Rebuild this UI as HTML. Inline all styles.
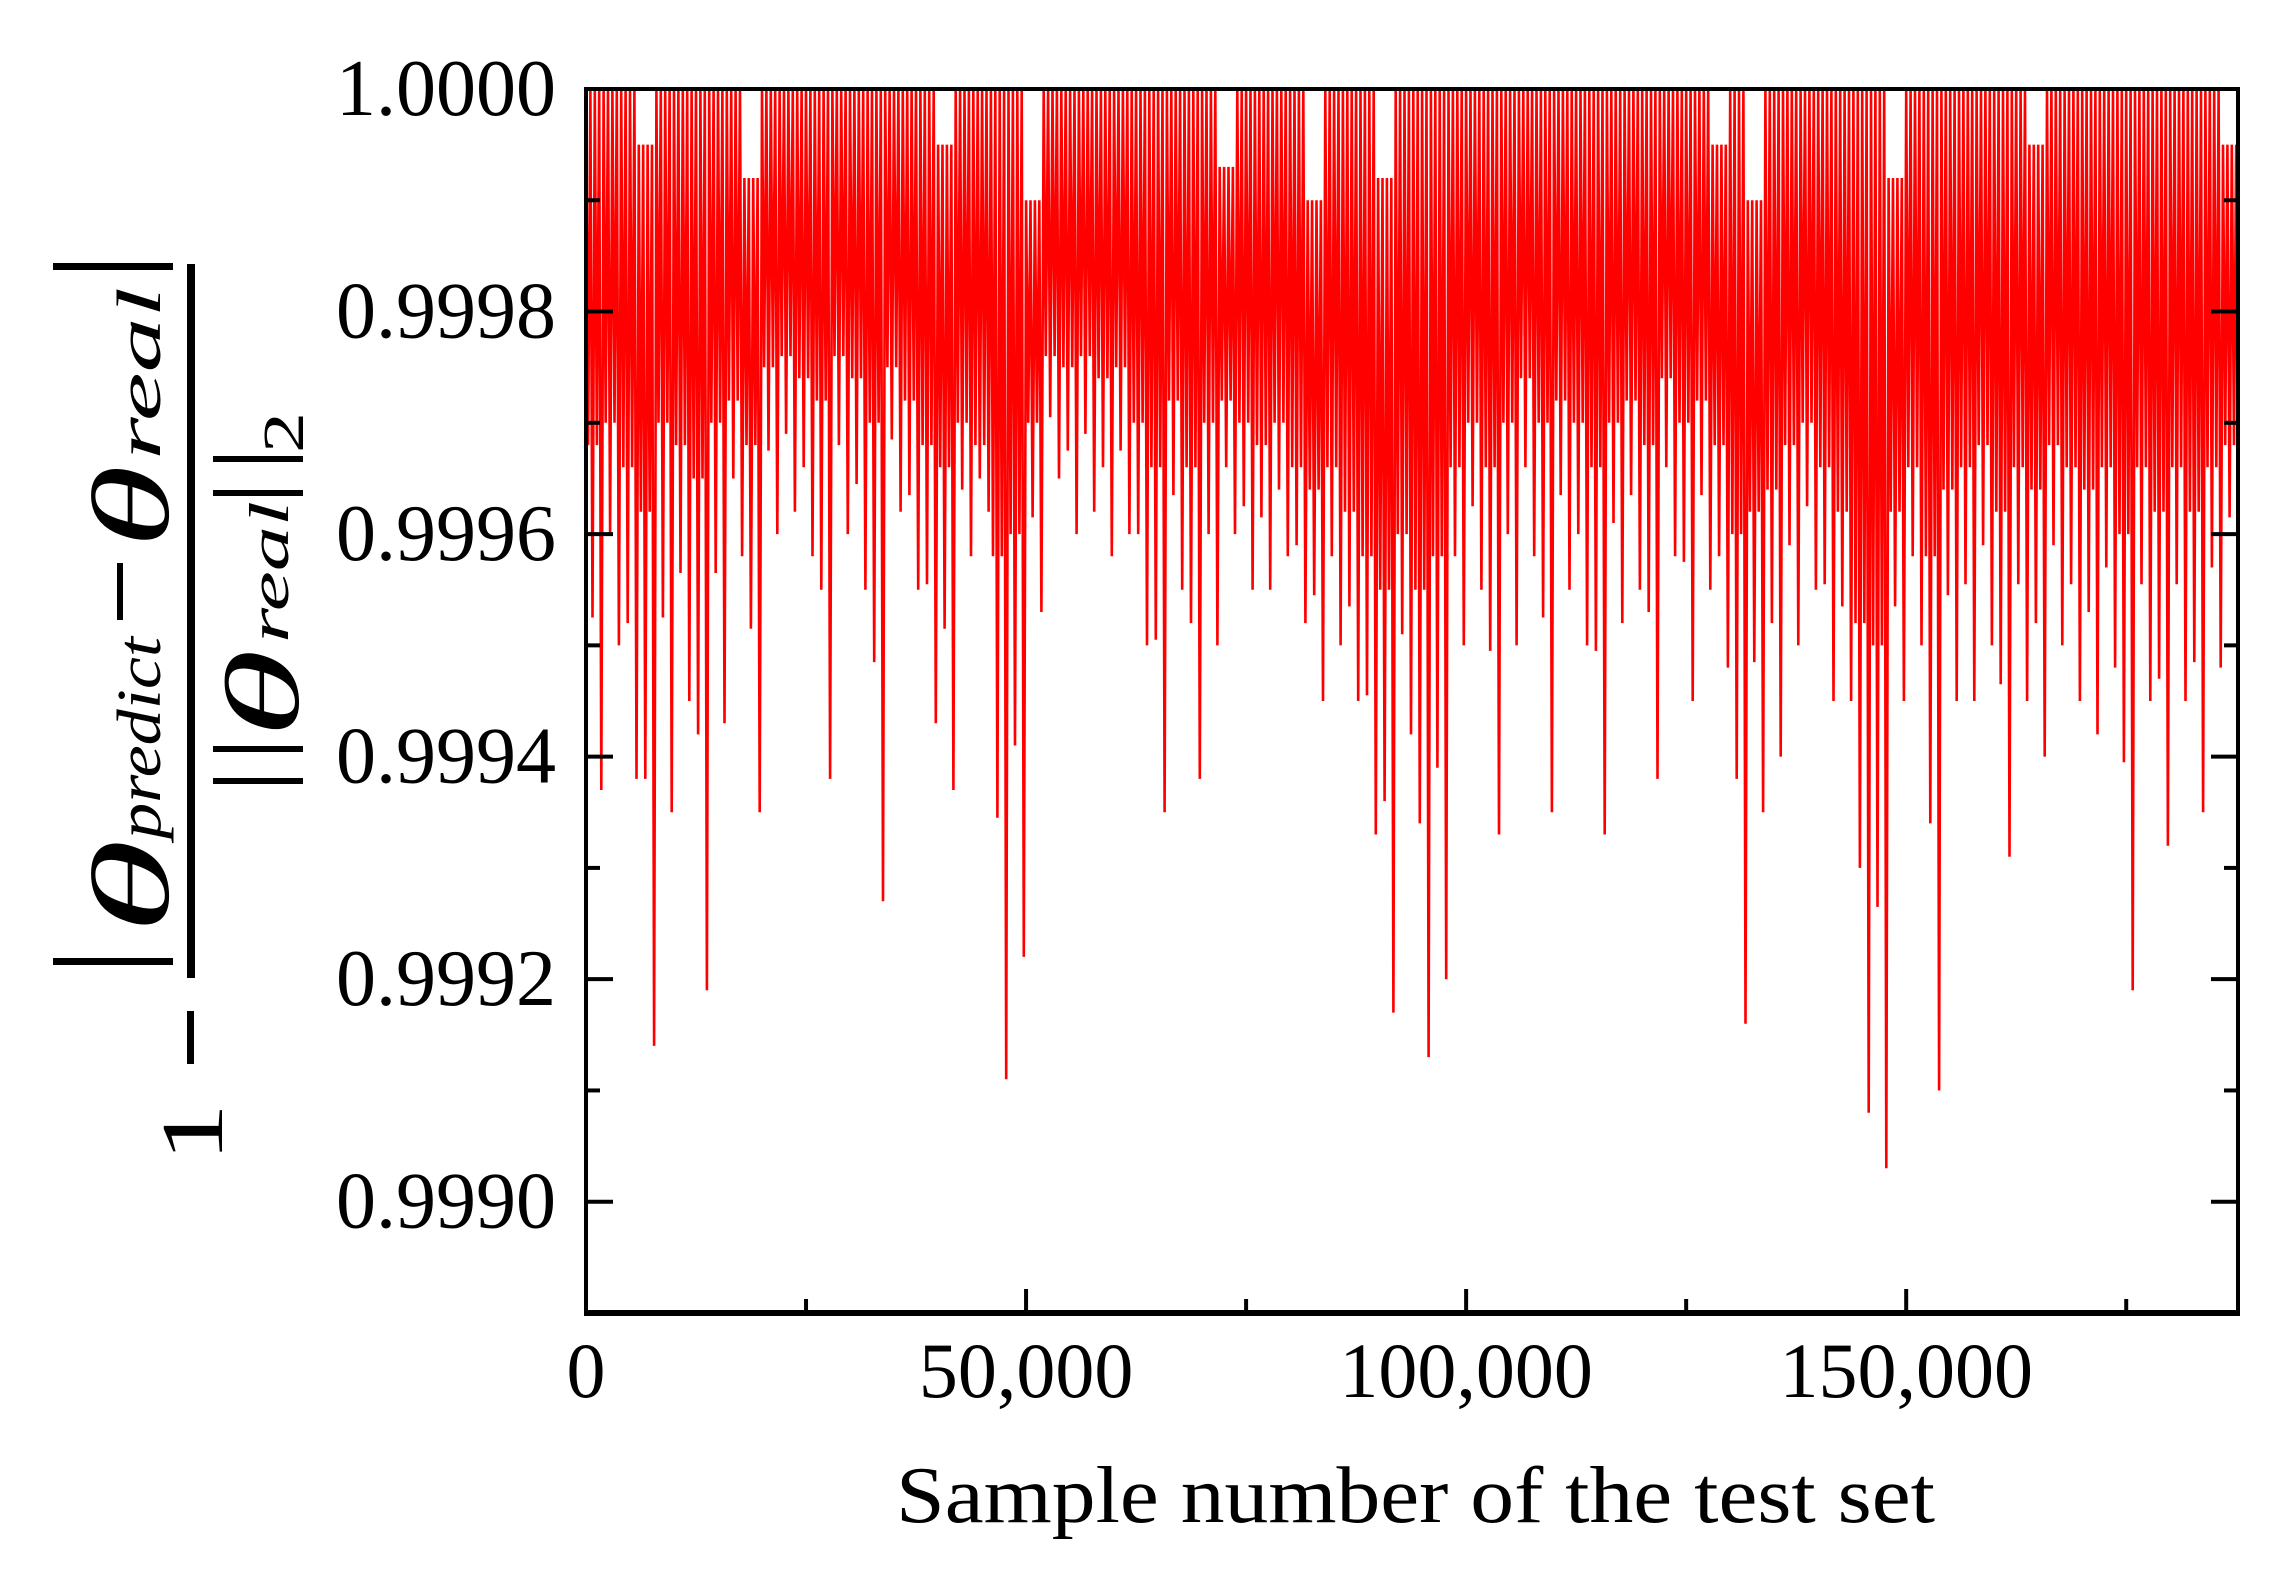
<!DOCTYPE html>
<html><head><meta charset="utf-8"><style>
html,body{margin:0;padding:0;background:#fff;}
svg{display:block;}
text{font-family:"Liberation Serif","DejaVu Serif",serif;fill:#000;}
</style></head><body>
<svg id="chart" width="2278" height="1577" viewBox="0 0 2278 1577" xmlns="http://www.w3.org/2000/svg">
<defs><clipPath id="plotclip"><rect x="586" y="89" width="1652" height="1224"/></clipPath></defs>
<g id="series" clip-path="url(#plotclip)"></g>
<g id="axes"></g>
<g id="ylabel" fill="#000">
  <text transform="rotate(-90)" x="-1162" y="222" font-size="88" textLength="59" lengthAdjust="spacingAndGlyphs">1</text>
  <rect x="187" y="1011" width="7" height="53"/>
  <rect x="187" y="264" width="8" height="714"/>
  <rect x="53" y="263" width="120" height="7"/>
  <rect x="53" y="958" width="120" height="7"/>
  <text transform="rotate(-90)" x="-934" y="168" font-size="110" font-style="italic" textLength="95" lengthAdjust="spacingAndGlyphs">θ</text>
  <text transform="rotate(-90)" x="-839" y="160" font-size="62" font-style="italic" textLength="202" lengthAdjust="spacingAndGlyphs">predict</text>
  <rect x="117" y="563" width="6" height="57"/>
  <text transform="rotate(-90)" x="-548" y="168" font-size="110" font-style="italic" textLength="83" lengthAdjust="spacingAndGlyphs">θ</text>
  <text transform="rotate(-90)" x="-460" y="160" font-size="62" font-style="italic" textLength="173" lengthAdjust="spacingAndGlyphs">real</text>
  <rect x="213" y="746" width="90" height="6"/>
  <rect x="213" y="778" width="90" height="6"/>
  <text transform="rotate(-90)" x="-738" y="298" font-size="105" font-style="italic" textLength="89" lengthAdjust="spacingAndGlyphs">θ</text>
  <text transform="rotate(-90)" x="-643" y="288" font-size="56" font-style="italic" textLength="142" lengthAdjust="spacingAndGlyphs">real</text>
  <rect x="213" y="456" width="90" height="6"/>
  <rect x="213" y="490" width="90" height="6"/>
  <text transform="rotate(-90)" x="-453" y="303" font-size="58" textLength="41" lengthAdjust="spacingAndGlyphs">2</text>
</g>
<text x="896" y="1522" font-size="80" textLength="1039" lengthAdjust="spacingAndGlyphs">Sample number of the test set</text>
</svg>
<script>
// ---- data ----
const binSize = 2000;
const lows = [0.99937,0.99950,0.99938,0.99914,0.99935,0.99945,0.99919,0.99943,0.99958,0.99935,
0.99960,0.99962,0.99958,0.99938,0.99960,0.99955,0.99927,0.99962,0.99955,0.99943,
0.99937,0.99958,0.99962,0.99911,0.99922,0.99953,0.99965,0.99960,0.99962,0.99958,
0.99960,0.99950,0.99935,0.99955,0.99938,0.99950,0.99960,0.99955,0.99955,0.99958,
0.99952,0.99945,0.99950,0.99945,0.99933,0.99917,0.99942,0.99913,0.99920,0.99950,
0.99955,0.99933,0.99950,0.99958,0.99935,0.99955,0.99950,0.99933,0.99952,0.99955,
0.99938,0.99958,0.99945,0.99955,0.99948,0.99916,0.99935,0.99940,0.99950,0.99955,
0.99945,0.99945,0.99908,0.99903,0.99945,0.99950,0.99910,0.99945,0.99945,0.99950,
0.99931,0.99945,0.99940,0.99950,0.99945,0.99942,0.99948,0.99919,0.99945,0.99932,
0.99945,0.99935,0.99948,0.99955];
const bodies = [0.99968,0.99970,0.99966,0.99962,0.99970,0.99968,0.99965,0.99970,0.99972,0.99968,
0.99975,0.99976,0.99974,0.99972,0.99976,0.99974,0.99970,0.99975,0.99972,0.99968,
0.99966,0.99970,0.99968,0.99958,0.99960,0.99970,0.99976,0.99975,0.99976,0.99974,
0.99975,0.99970,0.99966,0.99972,0.99966,0.99970,0.99972,0.99970,0.99968,0.99970,
0.99966,0.99964,0.99966,0.99962,0.99958,0.99955,0.99960,0.99955,0.99958,0.99966,
0.99970,0.99966,0.99970,0.99974,0.99970,0.99972,0.99970,0.99966,0.99970,0.99972,
0.99968,0.99974,0.99970,0.99972,0.99968,0.99960,0.99962,0.99964,0.99968,0.99970,
0.99966,0.99962,0.99952,0.99950,0.99962,0.99966,0.99958,0.99964,0.99966,0.99968,
0.99962,0.99966,0.99964,0.99968,0.99966,0.99964,0.99966,0.99960,0.99966,0.99962,
0.99966,0.99962,0.99966,0.99968];
const highs = [1.0000,1.0000,1.0000,0.99995,1.0000,1.0000,1.0000,1.0000,1.0000,0.99992,
1.0000,1.0000,1.0000,1.0000,1.0000,1.0000,1.0000,1.0000,1.0000,1.0000,
0.99995,1.0000,1.0000,1.0000,1.0000,0.99990,1.0000,1.0000,1.0000,1.0000,
1.0000,1.0000,1.0000,1.0000,1.0000,1.0000,0.99993,1.0000,1.0000,1.0000,
1.0000,0.99990,1.0000,1.0000,1.0000,0.99992,1.0000,1.0000,1.0000,1.0000,
1.0000,1.0000,1.0000,1.0000,1.0000,1.0000,1.0000,1.0000,1.0000,1.0000,
1.0000,1.0000,1.0000,1.0000,0.99995,1.0000,0.99990,1.0000,1.0000,1.0000,
1.0000,1.0000,1.0000,1.0000,0.99992,1.0000,1.0000,1.0000,1.0000,1.0000,
1.0000,1.0000,0.99995,1.0000,1.0000,1.0000,1.0000,1.0000,1.0000,1.0000,
1.0000,1.0000,1.0000,0.99995];
const yTicks = [1.0000,0.9998,0.9996,0.9994,0.9992,0.9990];
const yTickLabels = ["1.0000","0.9998","0.9996","0.9994","0.9992","0.9990"];
const xTicks = [0,50000,100000,150000];
const xTickLabels = ["0","50,000","100,000","150,000"];

// ---- scales ----
const X0=586, X1=2238, Y0=89, Y1=1313;
const xMax = 187700, yMin = 0.99890;
function sx(v){return X0+(v/xMax)*(X1-X0);}
function sy(v){return Y0+(1-v)/(1-yMin)*(Y1-Y0);}

const NS="http://www.w3.org/2000/svg";
const series=document.getElementById('series');
let pts=[];
const sub=[0.0,0.12,0.25,0.37,0.5,0.62,0.75,0.87];
for(let i=0;i<lows.length;i++){
  const a=i*binSize;
  const seq=[highs[i],bodies[i],highs[i],(bodies[i]+lows[i])/2,highs[i],bodies[i],highs[i],lows[i]];
  for(let k=0;k<seq.length;k++){
    pts.push(sx(a+binSize*sub[k]).toFixed(1)+","+sy(seq[k]).toFixed(1));
  }
}
const pl=document.createElementNS(NS,'polyline');


pl.setAttribute('points',pts.join(' '));
pl.setAttribute('fill','none');
pl.setAttribute('stroke','#ff0000');
pl.setAttribute('stroke-width','2.6');
series.appendChild(pl);

const axes=document.getElementById('axes');
function mk(tag,attrs){const e=document.createElementNS(NS,tag);for(const k in attrs)e.setAttribute(k,attrs[k]);axes.appendChild(e);return e;}
const frame=mk('rect',{x:X0,y:Y0,width:X1-X0,height:Y1-Y0,fill:'none',stroke:'#000','stroke-width':4});


const bot=mk('line',{x1:X0-2,y1:Y1,x2:X1+2,y2:Y1,stroke:'#000','stroke-width':6});



for(let k=0;k<=10;k++){
  const v=1-k*0.0001; const y=sy(v); const major=(k%2===0);
  const len=major?27:14;
  const t1=mk('line',{x1:X0,y1:y,x2:X0+len,y2:y,stroke:'#000','stroke-width':4});
  
  
  const t2=mk('line',{x1:X1,y1:y,x2:X1-len,y2:y,stroke:'#000','stroke-width':4});
  
  
}
for(let i=0;i<yTicks.length;i++){
  const t=mk('text',{x:556,y:sy(yTicks[i])+26,'font-size':80,'text-anchor':'end'});
  t.textContent=yTickLabels[i];
  
  
}
for(let v=25000;v<xMax;v+=25000){
  const major=(v%50000===0); const len=major?24:14;
  const t=mk('line',{x1:sx(v),y1:Y1,x2:sx(v),y2:Y1-len,stroke:'#000','stroke-width':4});
  
  
}
for(let i=0;i<xTicks.length;i++){
  const t=mk('text',{x:sx(xTicks[i]),y:1397,'font-size':78,'text-anchor':'middle'});
  t.textContent=xTickLabels[i];
  
  
}
</script>
</body></html>
